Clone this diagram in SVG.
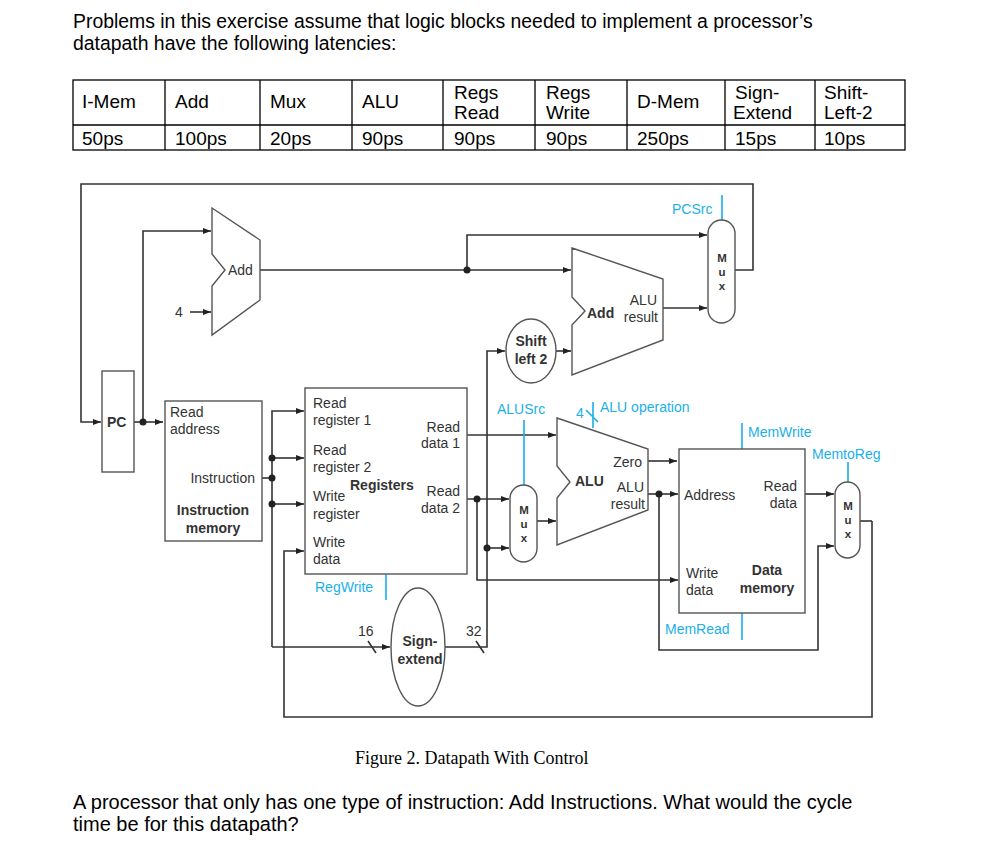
<svg xmlns="http://www.w3.org/2000/svg" width="996" height="848" viewBox="0 0 996 848">
<defs>
<marker id="a" markerWidth="8" markerHeight="6" refX="8" refY="3" orient="auto" markerUnits="userSpaceOnUse"><path d="M0,0 L8,3 L0,6 z" fill="#222"/></marker>
<style>
.t{font-family:"Liberation Sans",Arial,sans-serif;font-size:19px;fill:#000}
.d{font-family:"Liberation Sans",Arial,sans-serif;font-size:14px;fill:#333}
.m{font-family:"Liberation Sans",Arial,sans-serif;font-size:11.5px;font-weight:bold;fill:#333}
.b{font-weight:bold}
.c{font-family:"Liberation Sans",Arial,sans-serif;font-size:14px;fill:#1ab0ea}
.w{fill:none;stroke:#333;stroke-width:1.6}
.wa{fill:none;stroke:#333;stroke-width:1.6;marker-end:url(#a)}
.bl{stroke:#1ab0ea;stroke-width:1.6;fill:none}
.s{fill:#fff;stroke:#555;stroke-width:1.4}
.tb{fill:none;stroke:#000;stroke-width:1.3}
</style>
</defs>
<rect width="996" height="848" fill="#fff"/>
<text class="t" x="73" y="28" style="font-size:19.4px">Problems in this exercise assume that logic blocks needed to implement a processor’s</text>
<text class="t" x="73" y="50" style="font-size:19.4px">datapath have the following latencies:</text>
<g id="table">
<rect class="tb" x="73" y="80" width="832" height="70"/>
<line class="tb" x1="73" y1="125" x2="905" y2="125"/>
<g class="tb"><line x1="165" y1="80" x2="165" y2="150"/><line x1="260" y1="80" x2="260" y2="150"/><line x1="352" y1="80" x2="352" y2="150"/><line x1="443" y1="80" x2="443" y2="150"/><line x1="535" y1="80" x2="535" y2="150"/><line x1="627" y1="80" x2="627" y2="150"/><line x1="725" y1="80" x2="725" y2="150"/><line x1="815" y1="80" x2="815" y2="150"/></g>
<text class="t" x="82" y="108">I-Mem</text><text class="t" x="175" y="108">Add</text><text class="t" x="270" y="108">Mux</text><text class="t" x="362" y="108">ALU</text>
<text class="t" x="454" y="99">Regs</text><text class="t" x="454" y="119">Read</text>
<text class="t" x="546" y="99">Regs</text><text class="t" x="546" y="119">Write</text>
<text class="t" x="637" y="108">D-Mem</text>
<text class="t" x="735" y="99">Sign-</text><text class="t" x="733" y="119">Extend</text>
<text class="t" x="824" y="99">Shift-</text><text class="t" x="824" y="119">Left-2</text>
<text class="t" x="82" y="145">50ps</text><text class="t" x="175" y="145">100ps</text><text class="t" x="270" y="145">20ps</text><text class="t" x="362" y="145">90ps</text><text class="t" x="454" y="145">90ps</text><text class="t" x="546" y="145">90ps</text><text class="t" x="637" y="145">250ps</text><text class="t" x="735" y="145">15ps</text><text class="t" x="824" y="145">10ps</text>
</g>
<g id="connectors">
<path class="wa" d="M735,270 H753 V184 H81 V422 H101"/>
<path class="wa" d="M134,422 H163"/>
<path class="wa" d="M143,422 V231 H211"/>
<path class="wa" d="M190,312 H211"/>
<path class="w" d="M260,270 H467"/>
<path class="wa" d="M467,270 H571"/>
<path class="wa" d="M467,270 V235 H707"/>
<path class="wa" d="M663,308 H707"/>
<path class="w" d="M262,478 H272"/>
<path class="wa" d="M272,647 V411 H304"/>
<path class="wa" d="M272,458 H304"/>
<path class="wa" d="M272,504 H304"/>
<path class="wa" d="M272,647 H390"/>
<path class="wa" d="M872,521 V717 H284 V551 H304"/>
<path class="w" d="M860,521 H872"/>
<path class="w" d="M445,647 H487 V548"/>
<path class="wa" d="M487,548 H509"/>
<path class="wa" d="M487,548 V351 H505"/>
<path class="wa" d="M556,351 H571"/>
<path class="wa" d="M467,435 H556"/>
<path class="wa" d="M467,499 H509"/>
<path class="wa" d="M477,499 V580 H678"/>
<path class="wa" d="M537,521 H556"/>
<path class="wa" d="M648,461 H677"/>
<path class="wa" d="M648,494 H678"/>
<path class="wa" d="M659,494 V650 H818 V546 H834"/>
<path class="wa" d="M805,494 H834"/>
<g fill="#222"><circle cx="143" cy="422" r="3.5"/><circle cx="467" cy="270" r="3.5"/><circle cx="272" cy="478" r="3.5"/><circle cx="272" cy="458" r="3.5"/><circle cx="272" cy="504" r="3.5"/><circle cx="477" cy="499" r="3.5"/><circle cx="487" cy="548" r="3.5"/><circle cx="659" cy="494" r="3.5"/></g>
<path class="w" d="M368,641 L376,653 M476,641 L484,653"/>
<text class="d" x="358" y="636">16</text><text class="d" x="466" y="636">32</text>
<text class="d" x="175" y="317">4</text>
<path class="bl" d="M722,195 V220 M524,420 V485 M593,402 V428 M586,410 L598,422 M742,423 V449 M742,613 V640 M848,462 V482 M386,574 V600"/>
</g>
<g id="pc"><rect class="s" x="102" y="371" width="32" height="101"/><text class="d b" x="107" y="427">PC</text></g>
<g id="add4"><path class="s" d="M212,208 L260,240 V300 L212,335 V286 L225,270 L212,254 Z"/><text class="d" x="228" y="275">Add</text></g>
<g id="imem"><rect class="s" x="165" y="401" width="97" height="140"/>
<text class="d" x="170" y="417">Read</text><text class="d" x="170" y="434">address</text>
<text class="d" x="255" y="483" text-anchor="end">Instruction</text>
<text class="d b" x="213" y="515" text-anchor="middle">Instruction</text><text class="d b" x="213" y="533" text-anchor="middle">memory</text></g>
<g id="regs"><rect class="s" x="305" y="388" width="162" height="186"/>
<text class="d" x="313" y="408">Read</text><text class="d" x="313" y="425">register 1</text>
<text class="d" x="313" y="455">Read</text><text class="d" x="313" y="472">register 2</text>
<text class="d" x="313" y="501">Write</text><text class="d" x="313" y="519">register</text>
<text class="d" x="313" y="547">Write</text><text class="d" x="313" y="564">data</text>
<text class="d" x="460" y="432" text-anchor="end">Read</text><text class="d" x="460" y="448" text-anchor="end">data 1</text>
<text class="d" x="460" y="496" text-anchor="end">Read</text><text class="d" x="460" y="513" text-anchor="end">data 2</text>
<text class="d b" x="350" y="490">Registers</text>
<text class="c" x="315" y="592">RegWrite</text></g>
<g id="signext"><ellipse class="s" cx="418" cy="647" rx="27" ry="59"/><text class="d b" x="420" y="646" text-anchor="middle">Sign-</text><text class="d b" x="420" y="664" text-anchor="middle">extend</text></g>
<g id="shift"><ellipse class="s" cx="531" cy="351" rx="25" ry="32"/><text class="d b" x="531" y="346" text-anchor="middle">Shift</text><text class="d b" x="531" y="364" text-anchor="middle">left 2</text></g>
<g id="addbr"><path class="s" d="M572,248 L663,279 V340 L572,375 V325 L585,311 L572,297 Z"/><text class="d b" x="587" y="318">Add</text><text class="d" x="657" y="305" text-anchor="end">ALU</text><text class="d" x="658" y="322" text-anchor="end">result</text></g>
<g id="pcmux"><rect class="s" x="708" y="220" width="27" height="103" rx="13.5"/><text class="m" x="722" y="262" text-anchor="middle">M</text><text class="m" x="722" y="276" text-anchor="middle">u</text><text class="m" x="722" y="290" text-anchor="middle">x</text><text class="c" x="672" y="214">PCSrc</text></g>
<g id="alumux"><rect class="s" x="510" y="485" width="27" height="77" rx="13.5"/><text class="m" x="524" y="514" text-anchor="middle">M</text><text class="m" x="524" y="528" text-anchor="middle">u</text><text class="m" x="524" y="542" text-anchor="middle">x</text><text class="c" x="497" y="414">ALUSrc</text></g>
<g id="alu"><path class="s" d="M557,418 L648,449 V510 L557,545 V498 L570,482 L557,466 Z"/><text class="d b" x="575" y="486">ALU</text><text class="d" x="642" y="467" text-anchor="end">Zero</text><text class="d" x="644" y="492" text-anchor="end">ALU</text><text class="d" x="645" y="509" text-anchor="end">result</text><text class="c" x="576" y="418">4</text><text class="c" x="600" y="412">ALU operation</text></g>
<g id="dmem"><rect class="s" x="679" y="449" width="126" height="164"/>
<text class="d" x="684" y="500">Address</text><text class="d" x="797" y="491" text-anchor="end">Read</text><text class="d" x="797" y="508" text-anchor="end">data</text>
<text class="d" x="686" y="578">Write</text><text class="d" x="686" y="595">data</text>
<text class="d b" x="767" y="575" text-anchor="middle">Data</text><text class="d b" x="767" y="593" text-anchor="middle">memory</text>
<text class="c" x="748" y="437">MemWrite</text><text class="c" x="665" y="634">MemRead</text></g>
<g id="memmux"><rect class="s" x="835" y="482" width="25" height="76" rx="12.5"/><text class="m" x="848" y="510" text-anchor="middle">M</text><text class="m" x="848" y="524" text-anchor="middle">u</text><text class="m" x="848" y="538" text-anchor="middle">x</text><text class="c" x="812" y="459">MemtoReg</text></g>
<text x="355" y="764" font-family="Liberation Serif,serif" font-size="18">Figure 2. Datapath With Control</text>
<text class="t" x="73" y="809" style="font-size:20px">A processor that only has one type of instruction: Add Instructions. What would the cycle</text>
<text class="t" x="73" y="831" style="font-size:20px">time be for this datapath?</text>
</svg>
